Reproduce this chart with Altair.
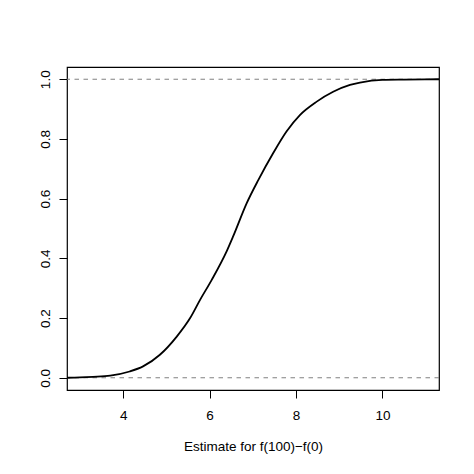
import altair as alt
import pandas as pd

# ECDF-like curve
xs = [2.70, 3.0, 3.3, 3.7, 4.15, 4.46, 4.85, 5.24, 5.55, 5.78, 6.05, 6.4, 6.55,
      6.86, 7.13, 7.47, 7.78, 8.09, 8.48, 8.86, 9.25, 9.48, 10.0, 10.5, 11.31]
ys = [0.000, 0.001, 0.003, 0.007, 0.021, 0.038, 0.077, 0.138, 0.200, 0.261,
      0.328, 0.425, 0.475, 0.585, 0.663, 0.752, 0.825, 0.880, 0.925, 0.958,
      0.981, 0.989, 0.998, 0.999, 1.000]
ref_levels = [0.0, 1.0]
x_ticks = [4, 6, 8, 10]
y_ticks = [0.0, 0.2, 0.4, 0.6, 0.8, 1.0]

df = pd.DataFrame({"x": xs, "y": ys})
ref = pd.DataFrame({"level": ref_levels})

FONT = "Liberation Sans"
x_scale = alt.Scale(domain=[2.70, 11.31], nice=False, zero=False)
y_scale = alt.Scale(domain=[-0.041, 1.041], nice=False, zero=False)

line = alt.Chart(df).mark_line(color="black", strokeWidth=1.8, interpolate="monotone").encode(
    x=alt.X("x:Q", scale=x_scale,
            axis=alt.Axis(title="Estimate for f(100)\u2212f(0)", values=x_ticks, format="d",
                          domain=False, grid=False, tickColor="black", tickSize=8,
                          labelColor="black", labelFontSize=13.5, labelFont=FONT,
                          labelPadding=10, titleFont=FONT, titleFontSize=13.5,
                          titleFontWeight="normal", titleColor="black", titlePadding=18)),
    y=alt.Y("y:Q", scale=y_scale,
            axis=alt.Axis(title=None, values=y_ticks, format=".1f",
                          domain=False, grid=False, tickColor="black", tickSize=8,
                          labelColor="black", labelFontSize=13.5, labelFont=FONT,
                          labelAngle=-90, labelAlign="center", labelBaseline="bottom",
                          labelPadding=7)),
)

rules = alt.Chart(ref).mark_rule(color="#808080", strokeDash=[4.5, 4.5], strokeWidth=1).encode(
    y=alt.Y("level:Q", scale=y_scale)
)

chart = alt.layer(rules, line).properties(
    width=372, height=323,
    background="white",
    autosize=alt.AutoSizeParams(type="none"),
    padding={"left": 59, "top": 59, "right": 20, "bottom": 70},
).configure_view(stroke="black", strokeWidth=1.2)

chart.save("out.html", embed_options={"renderer": "svg", "actions": False})
